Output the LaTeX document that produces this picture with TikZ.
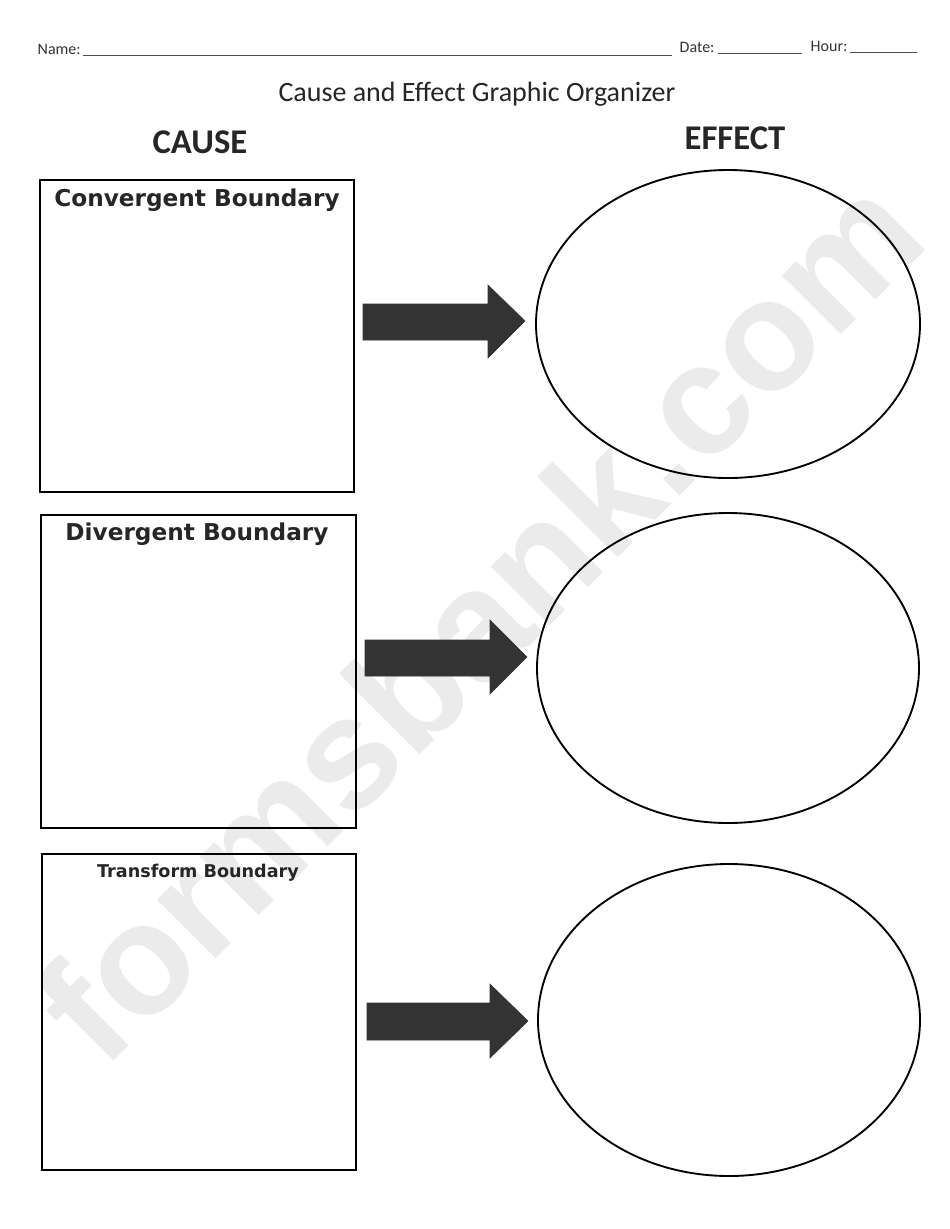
\documentclass[tikz,border=0pt]{standalone}
\usepackage{fontspec}
\setmainfont{Carlito}
\newfontfamily\dv{DejaVu Sans}
\newfontfamily\lb{Liberation Sans}
\begin{document}
\begin{tikzpicture}[x=0.75pt,y=-0.75pt,
  cbox/.style={draw,line width=0.9pt},
  ttl/.style={font=\dv\bfseries\fontsize{17.4}{20}\selectfont,text=black!85,anchor=north},
  fx/.style={draw,line width=1.4pt},
  bigarrow/.style={fill=black!80,draw=black!80}]
\useasboundingbox[fill=white] (0,0) rectangle (950,1229);
\node[rotate=45,text=black!8,font=\lb\bfseries\fontsize{118}{120}\selectfont] (wm) at (478,618) {formsbank.com};
% header
\node[anchor=base west,font=\fontsize{12}{14}\selectfont,text=black!80] (nm) at (33,54) {Name:};
\draw[black!70,line width=0.5pt] (83,55) -- (672,55);
\node[anchor=base west,font=\fontsize{12}{14}\selectfont,text=black!80] (dt) at (675,52) {Date:};
\draw[black!70,line width=0.5pt] (718,53) -- (802,53);
\node[anchor=base west,font=\fontsize{12}{14}\selectfont,text=black!80] (hr) at (806,51) {Hour:};
\draw[black!70,line width=0.5pt] (850,52) -- (917,52);
\node[font=\fontsize{21}{24}\selectfont,text=black!85] (t) at (477,94) {Cause and Effect Graphic Organizer};
\node[font=\bfseries\fontsize{26}{28}\selectfont,text=black!85] (c) at (200,142) {CAUSE};
\node[font=\bfseries\fontsize{26}{28}\selectfont,text=black!85] (e) at (735,138) {EFFECT};
% boxes
\draw[cbox] (40,180) rectangle (354,492);
\node[ttl] (b1) at (197,184) {Convergent Boundary};
\draw[cbox] (41,515) rectangle (356,828);
\node[ttl] (b2) at (197,518) {Divergent Boundary};
\draw[cbox] (42,854) rectangle (356,1170);
\node[ttl,font=\dv\bfseries\fontsize{13.2}{15}\selectfont] (b3) at (198,859) {Transform Boundary};
% arrows
\fill[bigarrow] (363,304) -- (488,304) -- (488,285) -- (525,321) -- (488,358) -- (488,340) -- (363,340) -- cycle;
\fill[bigarrow] (365,640) -- (490,640) -- (490,620) -- (527,657) -- (490,694) -- (490,676) -- (365,676) -- cycle;
\fill[bigarrow] (367,1003) -- (490,1003) -- (490,984) -- (528,1021) -- (490,1058) -- (490,1040) -- (367,1040) -- cycle;
% ellipses
\draw[fx] (728,324) ellipse [x radius=192,y radius=154];
\draw[fx] (728,668) ellipse [x radius=191,y radius=155];
\draw[fx] (729,1020) ellipse [x radius=191,y radius=156];
\end{tikzpicture}
\end{document}
